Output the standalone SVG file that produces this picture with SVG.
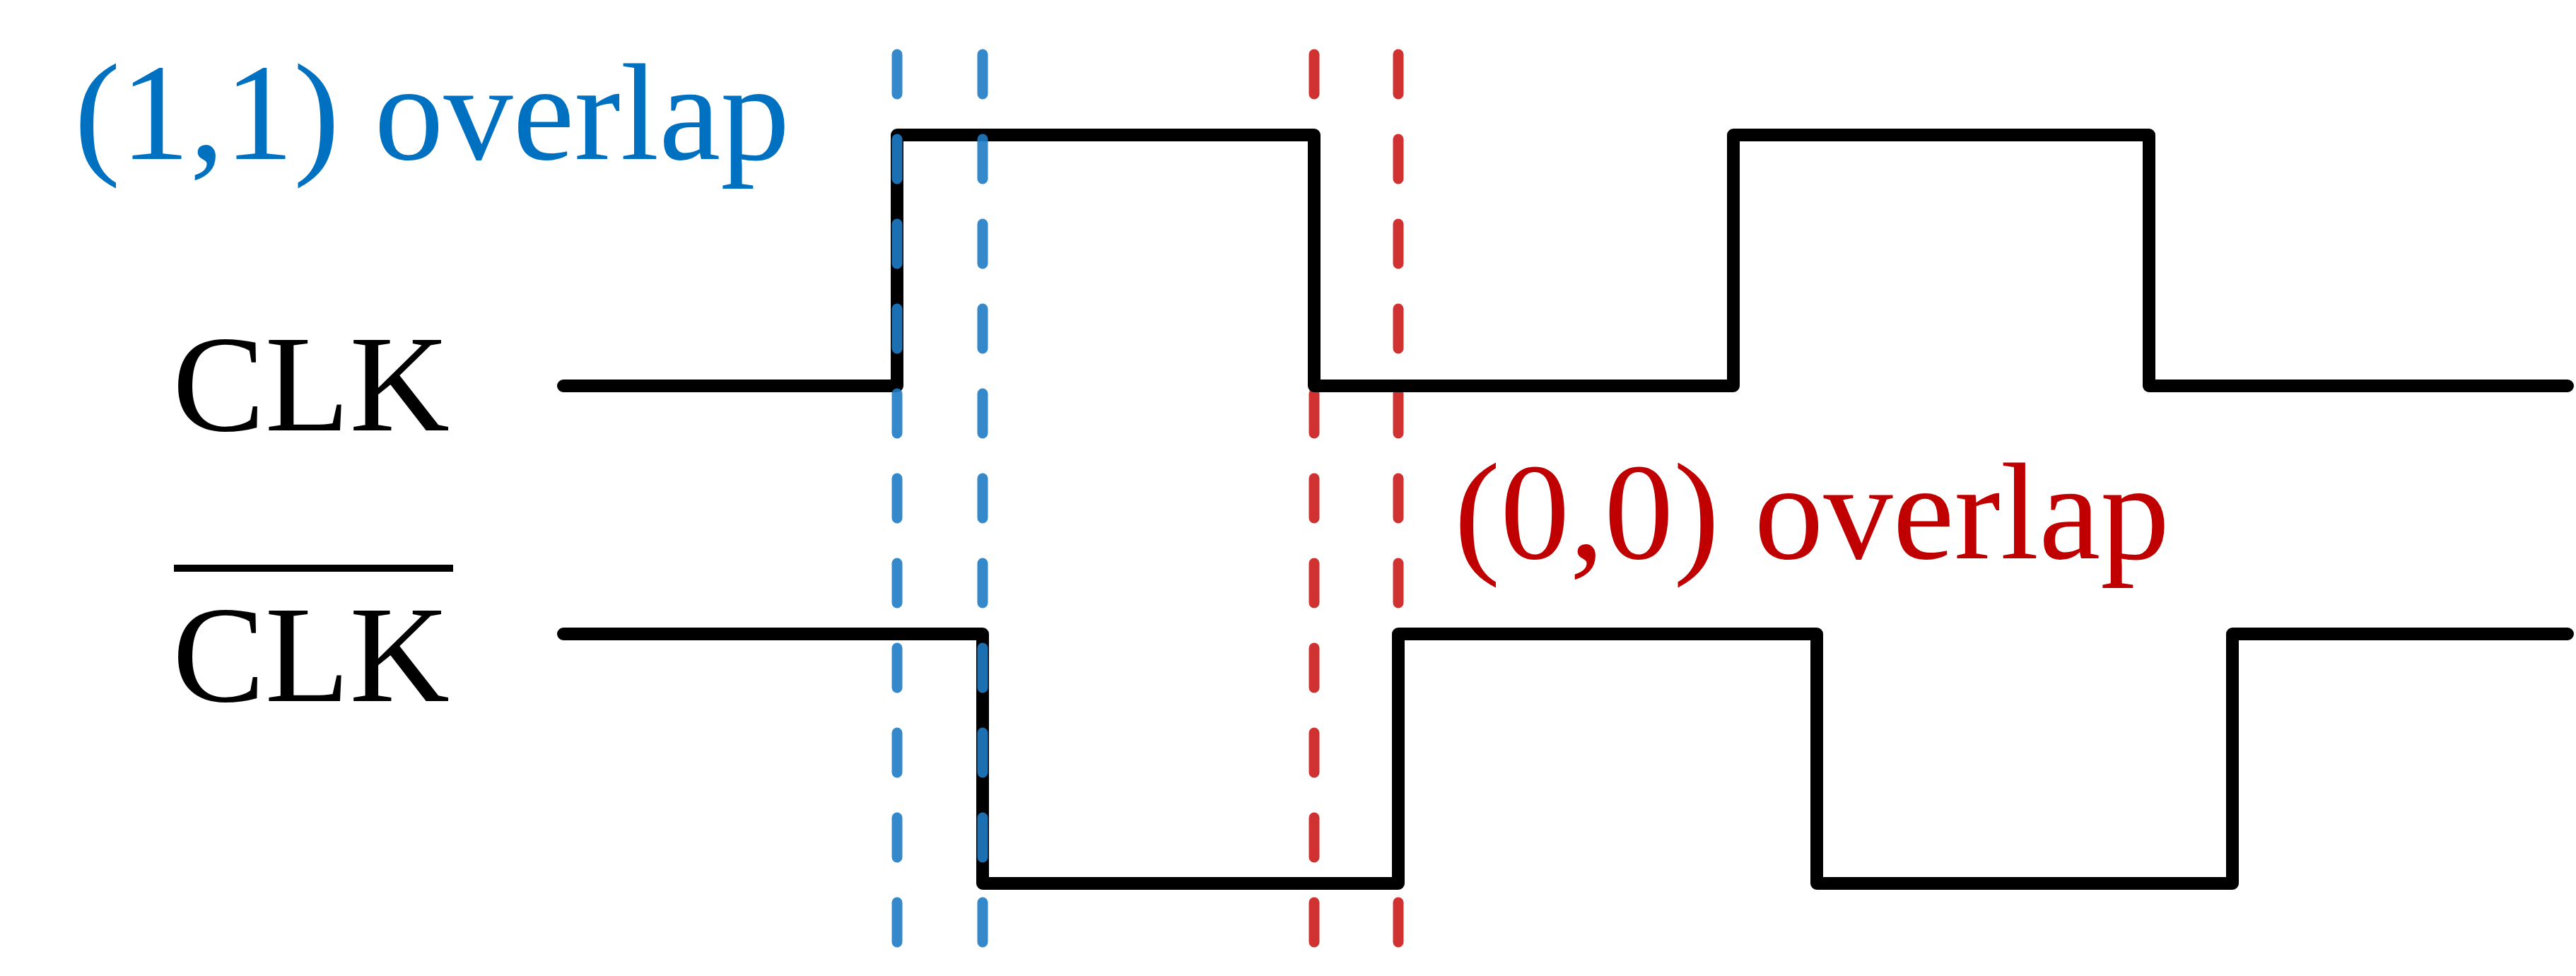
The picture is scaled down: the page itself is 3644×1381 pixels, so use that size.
<svg xmlns="http://www.w3.org/2000/svg" width="3644" height="1381" viewBox="0 0 3644 1381">
<style>
.sig{fill:none;stroke:#000;stroke-width:18;stroke-linejoin:round;stroke-linecap:round}
.db{stroke:#1f7cc4;stroke-opacity:0.9;stroke-width:15;stroke-linecap:round;stroke-dasharray:56 64}
.dr{stroke:#cc2222;stroke-opacity:0.93;stroke-width:15;stroke-linecap:round;stroke-dasharray:56 64}
text{font-family:"Liberation Serif","Times New Roman",serif;font-size:196px}
</style>
<rect width="3644" height="1381" fill="#fff"/>
<g id="connectors">
<line class="dr" x1="1859" y1="77" x2="1859" y2="1336"/>
<line class="dr" x1="1978" y1="77" x2="1978" y2="1336"/>
</g>
<g id="clk"><polyline class="sig" points="797,546 1269,546 1269,191 1859,191 1859,546 2452,546 2452,191 3040,191 3040,546 3632,546"/><text x="244" y="609">CLK</text></g>
<g id="clkbar"><polyline class="sig" points="797,897 1390,897 1390,1250 1978,1250 1978,897 2570,897 2570,1250 3158,1250 3158,897 3632,897"/><text x="244" y="992">CLK</text><line x1="246" y1="804" x2="641" y2="804" stroke="#000" stroke-width="10"/></g>
<g id="connectors-blue">
<line class="db" x1="1269" y1="77" x2="1269" y2="1336"/>
<line class="db" x1="1390" y1="77" x2="1390" y2="1336"/>
</g>
<g id="label11"><text x="105" y="225" fill="#0070c0">(1,1) overlap</text></g>
<g id="label00"><text x="2057" y="790" fill="#c00000">(0,0) overlap</text></g>
</svg>
